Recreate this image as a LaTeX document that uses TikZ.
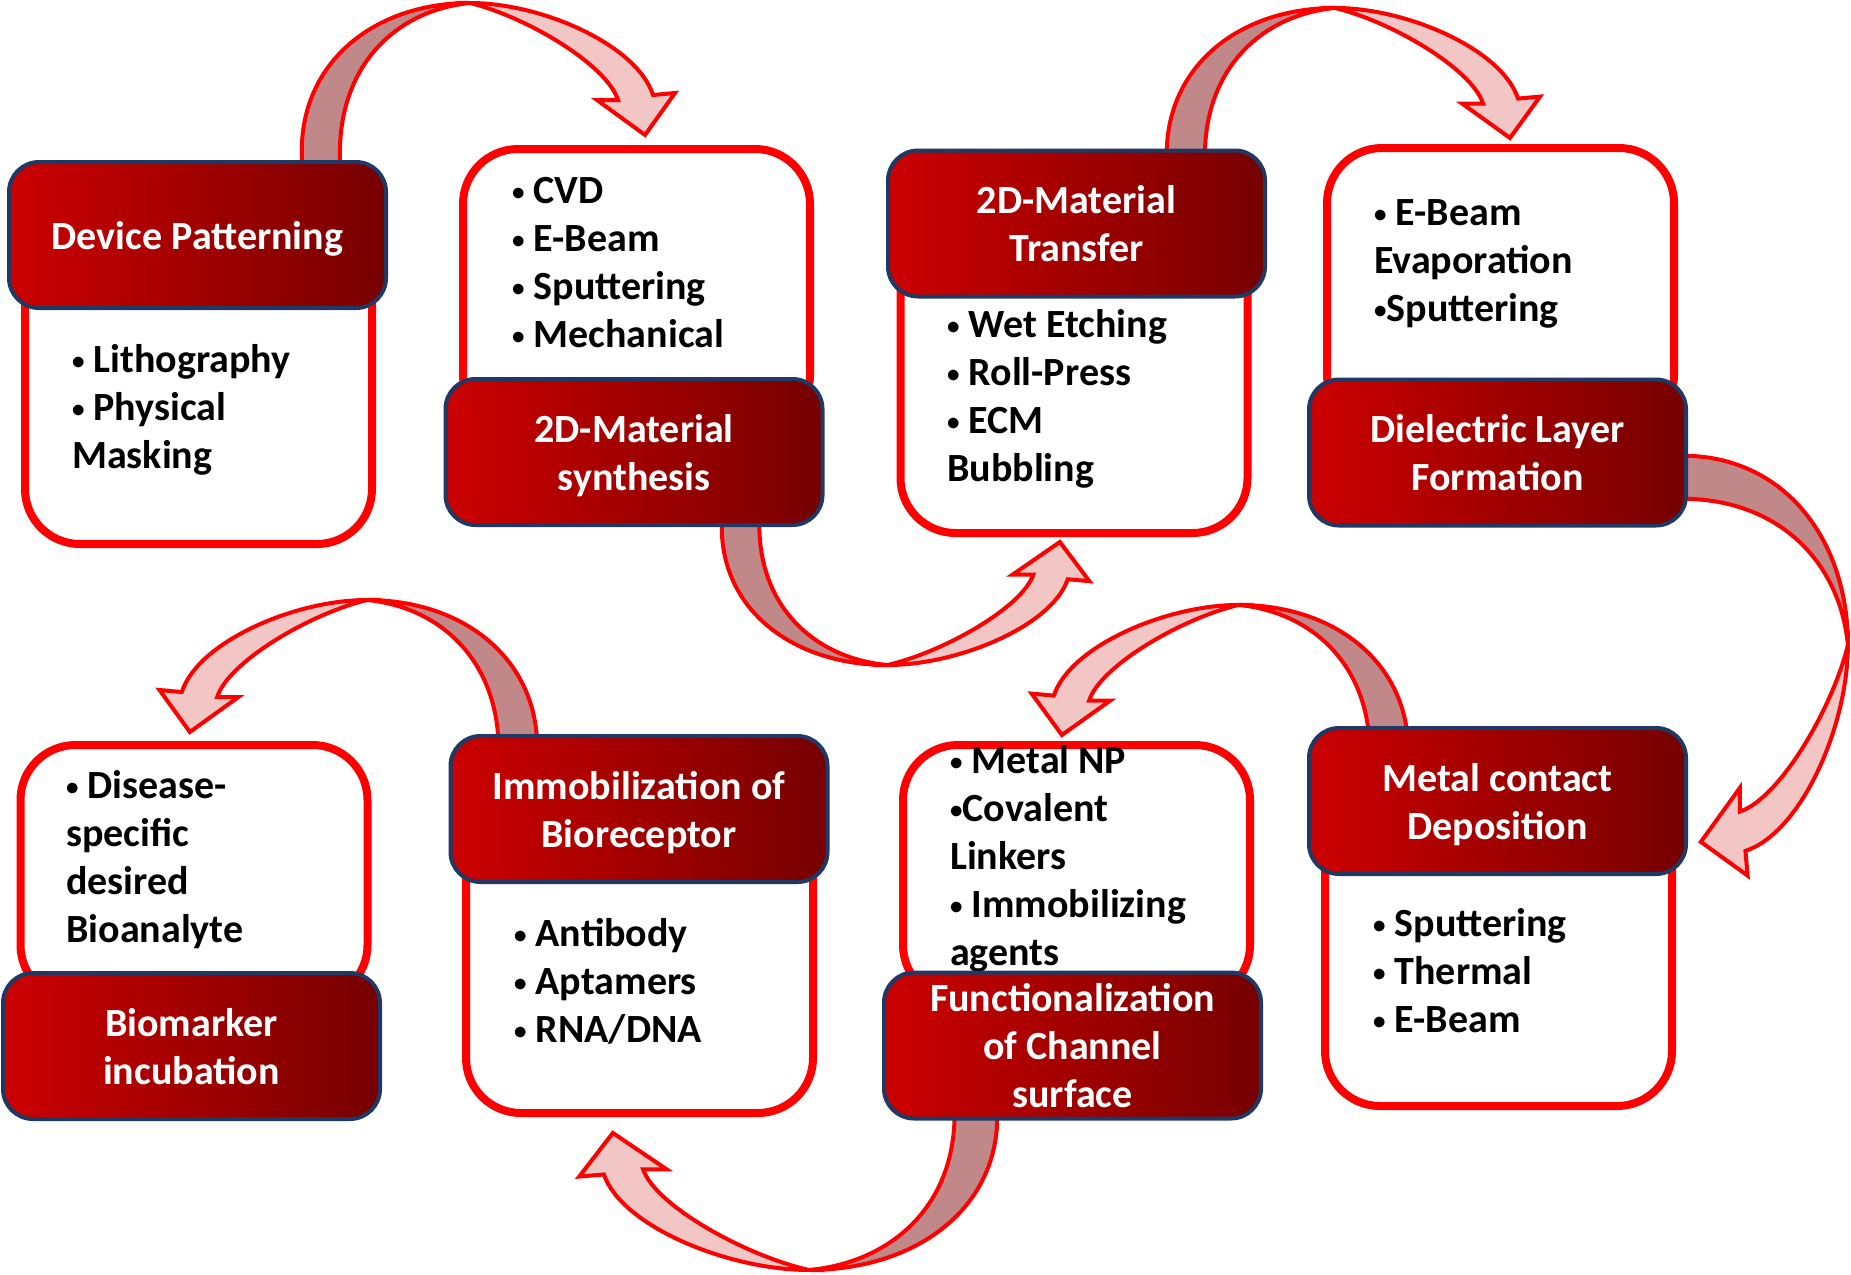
\documentclass[tikz,border=0pt]{standalone}
\usepackage{fontspec}
\setmainfont{Carlito}
\definecolor{hdrL}{RGB}{204,0,0}
\definecolor{hdrR}{RGB}{118,0,0}
\definecolor{navy}{RGB}{31,56,100}
\definecolor{bandD}{RGB}{192,136,136}
\definecolor{bandL}{RGB}{243,198,198}
\definecolor{pred}{RGB}{255,0,0}
\newcommand\bul{\raisebox{3pt}{\fontsize{25}{25}\selectfont •}}
\newcommand\bodytext[1]{\parbox[t]{330pt}{\raggedright\fontsize{40}{48}\selectfont\bfseries #1}}
\newcommand\cvarrow[1]{%
\begin{scope}[#1]
\filldraw[band, fill=bandD] (0,20) -- (0,0) .. controls (-5,-95) and (70,-157) .. (168,-157) .. controls (95,-150) and (35,-95) .. (38,0) -- (38,20) -- cycle;
\filldraw[band, fill=bandL] (168,-157) .. controls (240,-157) and (335,-115) .. (351,-65) -- (373,-67) -- (343,-25) -- (295,-60) -- (316,-60) .. controls (305,-95) and (225,-143) .. (168,-157) -- cycle;
\end{scope}}
\begin{document}
\begin{tikzpicture}[x=1pt,y=-1pt,
  band/.style={draw=pred, line width=4pt, line join=miter},
  header/.style={rectangle, rounded corners=30pt, draw=navy, line width=4pt,
    left color=hdrL, right color=hdrR, minimum width=377pt, minimum height=146pt,
    text=white, font=\fontsize{40}{48}\selectfont\bfseries, align=center,
    text depth=0pt, inner sep=0pt},
  panel/.style={rectangle, rounded corners=55pt, draw=pred, line width=8pt, fill=white,
    minimum width=347pt, inner sep=0pt},
  body/.style={anchor=base west, inner sep=0pt}]
\useasboundingbox (0,0) rectangle (1851,1274);
\fill[white] (0,0) rectangle (1851,1274);
% curved block arrows
\cvarrow{shift={(302,160)}}
\cvarrow{shift={(1167,162.6)}, yscale=0.985}
\cvarrow{shift={(537,757)}, xscale=-1.012}
\cvarrow{shift={(1408,759.6)}, xscale=-1.009, yscale=0.985}
\cvarrow{shift={(722,518.7)}, xscale=0.985, yscale=-0.932}
\cvarrow{shift={(997,1107)}, xscale=-1.12, yscale=-1.038}
\cvarrow{shift={(1673,456)}, rotate=-90, xscale=1.125, yscale=1.114}
% white panels
\node[panel, minimum height=344pt] (w1) at (198.5,372) {};
\node[panel, minimum height=281pt] (w2) at (636.5,289.5) {};
\node[panel, minimum height=343pt] (w3) at (1074,361.5) {};
\node[panel, minimum height=282pt] (w4) at (1500.5,289) {};
\node[panel, minimum height=255pt] (w5) at (194,872.5) {};
\node[panel, minimum height=333pt] (w6) at (639.5,946.5) {};
\node[panel, minimum height=255pt] (w7) at (1076.5,872.5) {};
\node[panel, minimum height=326pt] (w8) at (1498.5,943) {};
% body texts
\node[body] (t1) at (72,372) {\bodytext{\bul{} Lithography\\\bul{} Physical\\Masking}};
\node[body] (t2) at (512,203) {\bodytext{\bul{} CVD\\\bul{} E-Beam\\\bul{} Sputtering\\\bul{} Mechanical}};
\node[body] (t3) at (947,337) {\bodytext{\bul{} Wet Etching\\\bul{} Roll-Press\\\bul{} ECM\\Bubbling}};
\node[body] (t4) at (1374,225) {\bodytext{\bul{} E-Beam\\Evaporation\\\bul{}Sputtering}};
\node[body] (t5) at (66,798) {\bodytext{\bul{} Disease-\\specific\\desired\\Bioanalyte}};
\node[body] (t6) at (514,946) {\bodytext{\bul{} Antibody\\\bul{} Aptamers\\\bul{} RNA/DNA}};
\node[body] (t7) at (950,773) {\bodytext{\bul{} Metal NP\\\bul{}Covalent\\Linkers\\\bul{} Immobilizing\\agents}};
\node[body] (t8) at (1373,936) {\bodytext{\bul{} Sputtering\\\bul{} Thermal\\\bul{} E-Beam}};
% headers
\node[header] (h1) at (197.5,235) {Device Patterning};
\node[header] (h2) at (634,452) {2D-Material\\synthesis};
\node[header] (h3) at (1076.5,223.5) {2D-Material\\Transfer};
\node[header] (h4) at (1497.5,452.5) {Dielectric Layer\\Formation};
\node[header] (h5) at (191.5,1046) {Biomarker\\incubation};
\node[header] (h6) at (639,809) {Immobilization of\\Bioreceptor};
\node[header] (h7) at (1072.5,1045.5) {Functionalization\\of Channel\\surface};
\node[header] (h8) at (1497.5,801) {Metal contact\\Deposition};
\end{tikzpicture}
\end{document}
